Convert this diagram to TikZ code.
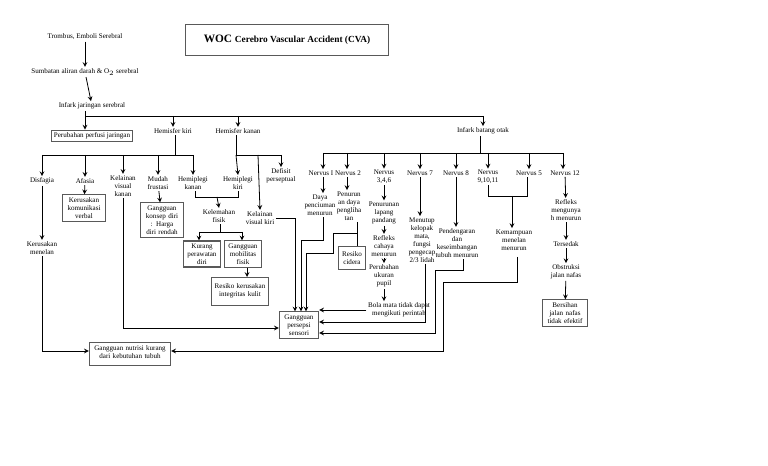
\documentclass[tikz,border=0pt]{standalone}
\usepackage{fontspec}
\setmainfont{Liberation Serif}
\begin{document}
\begin{tikzpicture}[x=0.75pt,y=-0.75pt,
 t/.style={font=\fontsize{5.3}{6}\selectfont,align=center,inner sep=1pt},
 b/.style={t,draw,thick,draw=gray!70!black,inner sep=2pt},
 a/.style={-stealth,semithick},
 l/.style={semithick}]
\useasboundingbox (0,0) rectangle (768,466);
\node[draw,thick,draw=gray!70!black,minimum width=203*0.75pt,minimum height=31*0.75pt,font=\bfseries\fontsize{8.5}{10}\selectfont] (title) at (287,40) {WOC {\fontsize{7}{8}\selectfont Cerebro Vascular Accident (CVA)}};
\node[t] (trom) at (85,37) {Trombus, Emboli Serebral};
\node[t] (sumb) at (85,72) {Sumbatan aliran darah \& O$_2$ serebral};
\node[t] (infj) at (92,106) {Infark jaringan serebral};
\draw[a] (trom) -- (sumb);
\draw[a] (sumb) -- (infj);
\node[b] (perf) at (92,136) {Perubahan perfusi jaringan};
\node[t] (hki) at (173,131) {Hemisfer kiri};
\node[t] (hka) at (238,131) {Hemisfer kanan};
\node[t] (ibo) at (483,131) {Infark batang otak};
\draw[l] (infj.south -| 85,0) -- (85,116) -- (483,116);
\draw[a] (85,116) -- (perf.north -| 85,0);
\draw[a] (173,116) -- (hki.north);
\draw[a] (238,116) -- (hka.north);
\draw[a] (483,116) -- (ibo.north);
% hemisfer kiri
\node[t] (disf) at (42,181) {Disfagia};
\node[t] (afas) at (85,181) {Afasia};
\node[t] (kvka) at (123,186) {Kelainan\\visual\\kanan};
\node[t] (mfru) at (158,183) {Mudah\\frustasi};
\node[t] (hpka) at (193,183) {Hemiplegi\\kanan};
\draw[l] (hki.south -| 175,0) -- (175,155);
\draw[l] (42,155) -- (193,155);
\draw[a] (42,155) -- (disf.north);
\draw[a] (85,155) -- (afas.north);
\draw[a] (123,155) -- (kvka.north);
\draw[a] (158,155) -- (mfru.north);
\draw[a] (193,155) -- (hpka.north);
% hemisfer kanan
\node[t] (hpki) at (238,183) {Hemiplegi\\kiri};
\node[t] (defp) at (281,176) {Defisit\\perseptual};
\node[t] (kvki) at (260,218) {Kelainan\\visual kiri};
\draw[l] (hka.south -| 236,0) -- (236,155) -- (281,155);
\draw[a] (236,155) -- (hpki.north);
\draw[a] (281,155) -- (defp.north);
\draw[a] (258,155) -- (kvki.north);
\node[b,text width=38*0.75pt] (kkv) at (84,208) {Kerusakan komunikasi verbal};
\draw[a] (afas) -- (kkv);
\node[b,text width=38*0.75pt] (gkd) at (162,220) {Gangguan konsep diri : Harga diri rendah};
\draw[a] (mfru) -- (gkd);
\node[t] (kelf) at (219,216) {Kelemahan\\fisik};
\draw[l] (hpka.south -| 195,0) -- (195,197) -- (238,197) -- (hpki.south -| 238,0);
\draw[a] (217,197) -- (kelf.north);
\node[b,text width=32*0.75pt] (kpd) at (202,254) {Kurang perawatan diri};
\node[b,text width=32*0.75pt] (gmf) at (243,254) {Gangguan mobilitas fisik};
\node[b,text width=52*0.75pt,minimum height=28*0.75pt,anchor=north] (rkik) at (240,277) {Resiko kerusakan integritas kulit\\[-4pt]\mbox{}};
\draw[l] (kelf.south -| 220,0) -- (220,232);
\draw[l] (199,232) -- (242,232);
\draw[a] (199,232) -- (kpd.north -| 199,0);
\draw[a] (242,232) -- (gmf.north -| 242,0);
\draw[a] (gmf.south -| 247,0) -- (rkik.north -| 247,0);
\node[t] (kmen) at (42,248) {Kerusakan\\menelan};
\draw[a] (disf) -- (kmen);
\node[b,text width=76*0.75pt] (gnut) at (130,354) {Gangguan nutrisi kurang dari kebutuhan tubuh\\[-3pt]\mbox{}};
\node[b,text width=34*0.75pt] (gps) at (299,325) {Gangguan persepsi sensori};
\draw[a] (kmen.south) -- (42,351) -- (gnut.west |- 0,351);
\draw[a] (kvka.south) -- (123,328) -- (gps.west |- 0,328);
\draw[a] (kvki.east) -- (295,218) -- (gps.north -| 295,0);
% batang otak
\draw[l] (ibo.south -| 480,0) -- (480,153);
\draw[l] (323,153) -- (563,153);
\node[t] (n1) at (321,173) {Nervus I};
\node[t] (n2) at (348,173) {Nervus 2};
\node[t] (n3) at (384,177) {Nervus\\3,4,6};
\node[t] (n7) at (420,173) {Nervus 7};
\node[t] (n8) at (456,173) {Nervus 8};
\node[t] (n9) at (488,177) {Nervus\\9,10,11};
\node[t] (n5) at (529,173) {Nervus 5};
\node[t] (n12) at (565,173) {Nervus 12};
\foreach \n/\x in {n1/323,n2/347,n3/384,n7/420,n8/456,n9/488,n5/529,n12/563}
  \draw[a] (\x,153) -- (\n.north -| \x,0);
\node[t] (dpm) at (320,205) {Daya\\penciuman\\menurun};
\draw[a] (n1.south -| 323,0) -- (dpm.north -| 323,0);
\node[t] (pdp) at (349,206) {Penurun\\an daya\\pengliha\\tan};
\draw[a] (n2.south -| 347,0) -- (pdp.north -| 347,0);
\node[b,text width=22*0.75pt,minimum height=23*0.75pt] (rci) at (352,258) {Resiko\\cidera};
\draw[l] (pdp.south -| 357,0) -- (rci.north -| 357,0);
\draw[a] (357,233) -- (333,233) -- (333,253) -- (306,253) -- (gps.north -| 306,0);
\draw[a] (dpm.south -| 323,0) -- (323,240) -- (301,240) -- (gps.north -| 301,0);
\node[t] (plp) at (384,213) {Penurunan\\lapang\\pandang};
\node[t] (rcm) at (384,246) {Refleks\\cahaya\\menurun};
\node[t] (pup) at (384,276) {Perubahan\\ukuran\\pupil};
\node[t] (bmt) at (399,310) {Bola mata tidak dapat\\mengikuti perintah};
\draw[a] (n3) -- (plp);
\draw[a] (plp) -- (rcm);
\draw[a] (rcm) -- (pup);
\draw[a] (pup.south -| 384,0) -- (bmt.north -| 384,0);
\draw[a] (bmt.west) -- (gps.east |- bmt.west);
\node[t] (mkm) at (422,240) {Menutup\\kelopak\\mata,\\fungsi\\pengecap\\2/3 lidah};
\draw[a] (n7.south -| 420,0) -- (mkm.north -| 420,0);
\draw[a] (mkm.south -| 425,0) -- (425,322) -- (gps.east |- 0,322);
\node[t] (pdk) at (457,243) {Pendengaran\\dan\\keseimbangan\\tubuh menurun};
\draw[a] (n8.south -| 456,0) -- (pdk.north -| 456,0);
\draw[a] (pdk.south -| 463,0) -- (463,270) -- (435,270) -- (435,333) -- (gps.east |- 0,333);
\node[t] (kmm) at (514,240) {Kemampuan\\menelan\\menurun};
\draw[l] (n9.south -| 488,0) -- (488,196) -- (527,196) -- (n5.south -| 527,0);
\draw[a] (512,196) -- (kmm.north -| 512,0);
\draw[a] (517,257) -- (517,282) -- (443,282) -- (443,351) -- (gnut.east |- 0,351);
\node[t] (rmm) at (566,210) {Refleks\\mengunya\\h menurun};
\node[t] (ters) at (566,244) {Tersedak};
\node[t] (obs) at (566,272) {Obstruksi\\jalan nafas};
\node[b,text width=40*0.75pt] (bjn) at (565,313) {Bersihan jalan nafas tidak efektif};
\draw[a] (n12) -- (rmm);
\draw[a] (rmm) -- (ters);
\draw[a] (ters) -- (obs);
\draw[a] (obs) -- (bjn);
\end{tikzpicture}
\end{document}
